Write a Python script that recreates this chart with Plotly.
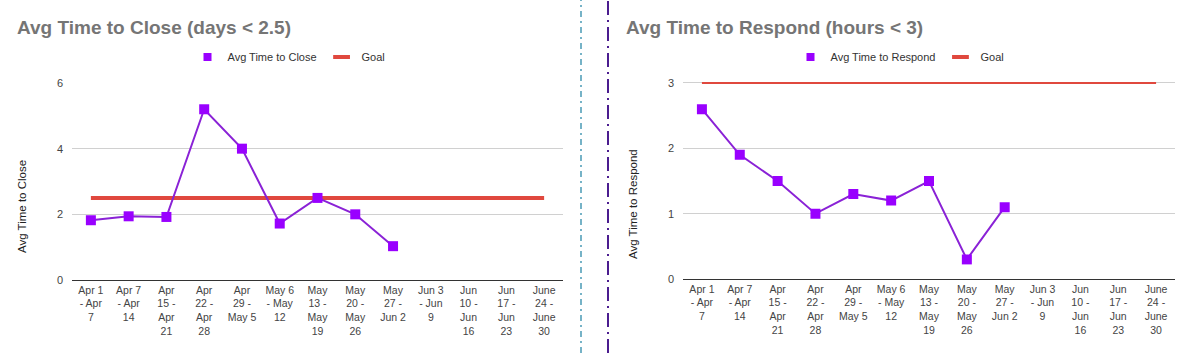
import plotly.graph_objects as go

categories = ["Apr 1<br>- Apr<br>7", "Apr 7<br>- Apr<br>14", "Apr<br>15 -<br>Apr<br>21",
              "Apr<br>22 -<br>Apr<br>28", "Apr<br>29 -<br>May 5", "May 6<br>- May<br>12",
              "May<br>13 -<br>May<br>19", "May<br>20 -<br>May<br>26", "May<br>27 -<br>Jun 2",
              "Jun 3<br>- Jun<br>9", "Jun<br>10 -<br>Jun<br>16", "Jun<br>17 -<br>Jun<br>23",
              "June<br>24 -<br>June<br>30"]
close_days = [1.82, 1.94, 1.92, 5.2, 4.0, 1.72, 2.5, 2.0, 1.03, None, None, None, None]
close_goal = [2.5] * 13
respond_hours = [2.6, 1.9, 1.5, 1.0, 1.3, 1.2, 1.5, 0.3, 1.1, None, None, None, None]
respond_goal = [3] * 13
close_ticks = [0, 2, 4, 6]
respond_ticks = [0, 1, 2, 3]

W, H = 1188, 353
FONT = "Liberation Sans, Arial, sans-serif"
PURPLE_LINE = "#8a22d6"
PURPLE_MARK = "#9900ff"
RED = "#e0483e"

def px(x):
    return x / W

def py(y):
    return 1 - y / H

fig = go.Figure()

# Left chart
fig.add_trace(go.Scatter(x=categories, y=close_goal, mode="lines", line=dict(color=RED, width=4),
                         xaxis="x", yaxis="y", showlegend=False, hoverinfo="skip"))
fig.add_trace(go.Scatter(x=categories, y=close_days, mode="lines+markers",
                         line=dict(color=PURPLE_LINE, width=2),
                         marker=dict(symbol="square", size=10, color=PURPLE_MARK),
                         xaxis="x", yaxis="y", showlegend=False))
fig.add_trace(go.Scatter(x=[None], y=[None], mode="markers", name="Avg Time to Close",
                         marker=dict(symbol="square", size=8, color=PURPLE_MARK),
                         xaxis="x", yaxis="y", legend="legend"))
fig.add_trace(go.Scatter(x=[None], y=[None], mode="markers", name="Goal",
                         marker=dict(symbol="line-ew-open", size=12, color=RED,
                                     line=dict(color=RED, width=4)),
                         xaxis="x", yaxis="y", legend="legend"))

# Right chart
fig.add_trace(go.Scatter(x=categories, y=respond_goal, mode="lines", line=dict(color=RED, width=2),
                         xaxis="x2", yaxis="y2", showlegend=False, hoverinfo="skip"))
fig.add_trace(go.Scatter(x=categories, y=respond_hours, mode="lines+markers",
                         line=dict(color=PURPLE_LINE, width=2),
                         marker=dict(symbol="square", size=10, color=PURPLE_MARK),
                         xaxis="x2", yaxis="y2", showlegend=False))
fig.add_trace(go.Scatter(x=[None], y=[None], mode="markers", name="Avg Time to Respond",
                         marker=dict(symbol="square", size=8, color=PURPLE_MARK),
                         xaxis="x2", yaxis="y2", legend="legend2"))
fig.add_trace(go.Scatter(x=[None], y=[None], mode="markers", name="Goal",
                         marker=dict(symbol="line-ew-open", size=12, color=RED,
                                     line=dict(color=RED, width=4)),
                         xaxis="x2", yaxis="y2", legend="legend2"))

xcommon = dict(type="category", range=[-0.5, 12.5], automargin=False, showgrid=False,
               showline=True, linecolor="#333333", linewidth=1, zeroline=False,
               ticks="", tickfont=dict(family=FONT, size=10.5, color="#444444"), tickangle=0,
               fixedrange=True)
ycommon = dict(automargin=False, showgrid=True, gridcolor="#d0d0d0", gridwidth=1, zeroline=False,
               showline=False, ticks="", ticklabelstandoff=8,
               tickfont=dict(family=FONT, size=11, color="#444444"), fixedrange=True)

legcommon = dict(orientation="h", xanchor="center", yanchor="middle",
                 font=dict(family=FONT, size=11, color="#333333"), bgcolor="rgba(0,0,0,0)",
                 itemwidth=30, itemsizing="trace", tracegroupgap=0)

# small headroom above the top gridline so the goal line at the top value is not clipped
y2_top = 3.04
px_per_unit2 = (279 - 83) / 3

fig.update_layout(
    template="none",
    width=W, height=H, margin=dict(l=0, r=0, t=0, b=0, autoexpand=False),
    paper_bgcolor="white", plot_bgcolor="white",
    xaxis=dict(domain=[px(72), px(563)], anchor="y", **xcommon),
    yaxis=dict(domain=[py(280), py(83)], anchor="x", range=[0, 6], tickvals=close_ticks, **ycommon),
    xaxis2=dict(domain=[px(683), px(1175)], anchor="y2", **xcommon),
    yaxis2=dict(domain=[py(279), py(83 - (y2_top - 3) * px_per_unit2)], anchor="x2",
                range=[0, y2_top], tickvals=respond_ticks, **ycommon),
    legend=dict(x=px(289), y=py(57), **legcommon),
    legend2=dict(x=px(900), y=py(57), **legcommon),
    annotations=[
        dict(text="<b>Avg Time to Close (days < 2.5)</b>", x=px(15), y=py(27), xref="paper", yref="paper",
             xanchor="left", yanchor="middle", showarrow=False,
             font=dict(family=FONT, size=19, color="#757575")),
        dict(text="<b>Avg Time to Respond (hours < 3)</b>", x=px(624), y=py(27), xref="paper", yref="paper",
             xanchor="left", yanchor="middle", showarrow=False,
             font=dict(family=FONT, size=19, color="#757575")),
        dict(text="Avg Time to Close", x=px(22), y=py(207), xref="paper", yref="paper",
             textangle=-90, showarrow=False, xanchor="center", yanchor="middle",
             font=dict(family=FONT, size=11.5, color="#222222")),
        dict(text="Avg Time to Respond", x=px(633), y=py(204), xref="paper", yref="paper",
             textangle=-90, showarrow=False, xanchor="center", yanchor="middle",
             font=dict(family=FONT, size=11.5, color="#222222")),
    ],
    shapes=[
        dict(type="line", xref="paper", yref="paper", x0=px(581), x1=px(581), y0=0, y1=1,
             line=dict(color="#4a9bb5", width=1.5, dash="6px,4px,2px,4px")),
        dict(type="line", xref="paper", yref="paper", x0=px(608), x1=px(608), y0=0, y1=1,
             line=dict(color="#4b1d8f", width=2, dash="14px,5px,2px,5px")),
    ],
)

fig.write_html("out.html", config={"displayModeBar": False})
